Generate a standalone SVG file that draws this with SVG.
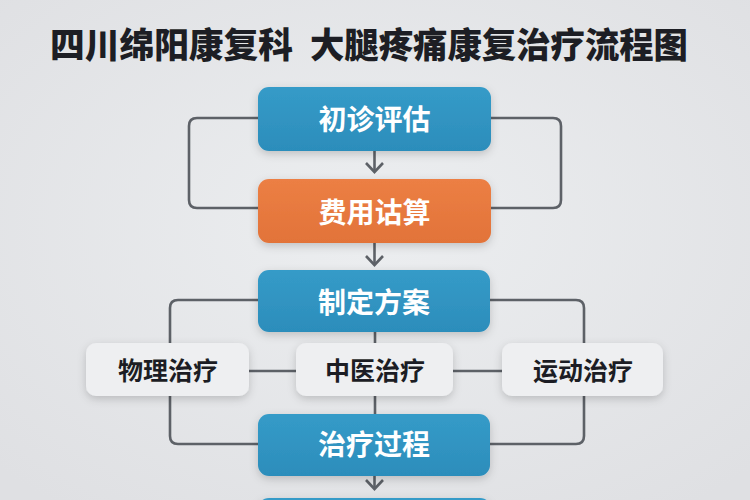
<svg xmlns="http://www.w3.org/2000/svg" width="750" height="500" viewBox="0 0 750 500">
<defs>
<radialGradient id="bg" cx="50%" cy="45%" r="70%">
<stop offset="0" stop-color="#eceef0"/>
<stop offset="1" stop-color="#dfe0e3"/>
</radialGradient>
<linearGradient id="blue" x1="0" y1="0" x2="0" y2="1">
<stop offset="0" stop-color="#359bc8"/>
<stop offset="1" stop-color="#2c8dbb"/>
</linearGradient>
<linearGradient id="orange" x1="0" y1="0" x2="0" y2="1">
<stop offset="0" stop-color="#ec7f44"/>
<stop offset="1" stop-color="#e27339"/>
</linearGradient>
<filter id="sh" x="-20%" y="-30%" width="140%" height="170%">
<feDropShadow dx="0" dy="3" stdDeviation="4" flood-color="#000" flood-opacity="0.18"/>
</filter>
<marker id="chev" viewBox="0 0 12 20" refX="10" refY="10" markerWidth="12" markerHeight="20" markerUnits="userSpaceOnUse" orient="auto">
<path d="M1,1.5 L10,10 L1,18.5" fill="none" stroke="#5d6167" stroke-width="2.6" stroke-linejoin="miter"/>
</marker>
</defs>
<style>
.title{font-family:"Noto Sans CJK SC","Noto Sans",sans-serif;font-weight:900;font-size:35px;fill:#1d1e24}
.main rect{filter:url(#sh)}
.main text{font-family:"Noto Sans CJK SC","Noto Sans",sans-serif;font-weight:700;font-size:28px;fill:#ffffff;text-anchor:middle}
.sub rect{fill:#eeeff1;filter:url(#sh)}
.sub text{font-family:"Noto Sans CJK SC","Noto Sans",sans-serif;font-weight:700;font-size:25px;fill:#1c1d24;text-anchor:middle}
.conn path{fill:none;stroke:#5d6167;stroke-width:2.6}
</style>
<rect width="750" height="500" fill="url(#bg)"/>
<text class="title" x="50" y="58" textLength="243" lengthAdjust="spacingAndGlyphs">四川绵阳康复科</text>
<text class="title" x="310" y="58" textLength="378" lengthAdjust="spacingAndGlyphs">大腿疼痛康复治疗流程图</text>
<g id="connectors" class="conn">
<path d="M258,118 H197 Q189,118 189,126 V200 Q189,208 197,208 H258"/>
<path d="M491,118 H553 Q561,118 561,126 V200 Q561,208 553,208 H491"/>
<path d="M258,300 H178 Q170,300 170,308 V436 Q170,444 178,444 H258"/>
<path d="M490,300 H576 Q584,300 584,308 V436 Q584,444 576,444 H490"/>
<path d="M375,332 V414"/>
<path d="M249,371 H296"/>
<path d="M453,371 H502"/>
<path d="M374.5,151 V172" marker-end="url(#chev)"/>
<path d="M374.5,243 V265" marker-end="url(#chev)"/>
<path d="M374.5,476 V489" marker-end="url(#chev)"/>
</g>
<g id="n1" class="main"><rect x="258" y="87" width="233" height="64" rx="11" fill="url(#blue)"/><text x="374.5" y="130">初诊评估</text></g>
<g id="n2" class="main"><rect x="258" y="179" width="233" height="64" rx="11" fill="url(#orange)"/><text x="374.5" y="223">费用诂算</text></g>
<g id="n3" class="main"><rect x="258" y="270" width="232" height="62" rx="11" fill="url(#blue)"/><text x="374" y="313">制定方案</text></g>
<g id="n4" class="sub"><rect x="86" y="343" width="163" height="53" rx="10"/><text x="168" y="380">物理治疗</text></g>
<g id="n5" class="sub"><rect x="296" y="343" width="157" height="53" rx="10"/><text x="375" y="380">中医治疗</text></g>
<g id="n6" class="sub"><rect x="502" y="343" width="161" height="53" rx="10"/><text x="583" y="380">运动治疗</text></g>
<g id="n7" class="main"><rect x="258" y="414" width="232" height="62" rx="11" fill="url(#blue)"/><text x="374" y="455">治疗过程</text></g>
<g id="n8" class="main"><rect x="258" y="498" width="233" height="64" rx="11" fill="url(#blue)"/></g>
</svg>
